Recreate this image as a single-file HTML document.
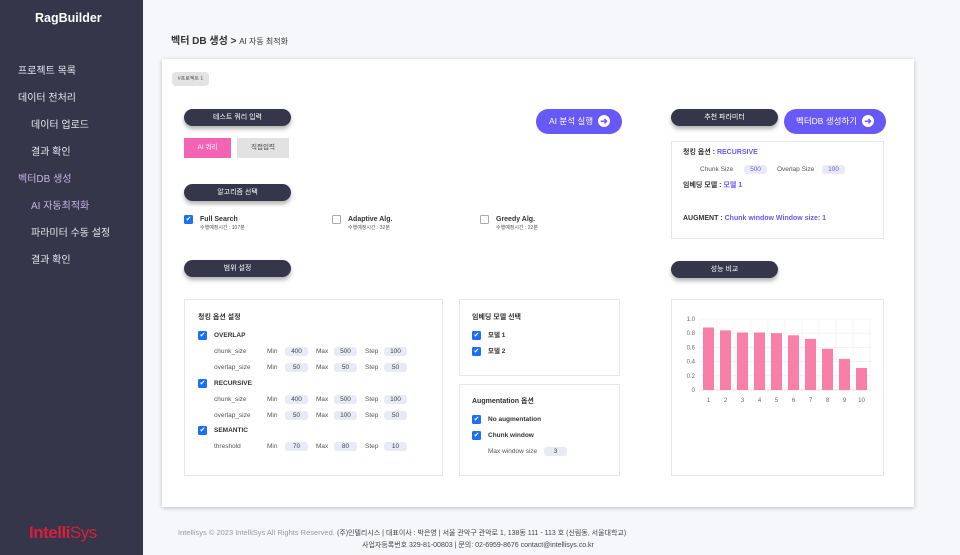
<!DOCTYPE html>
<html><head><meta charset="utf-8"><style>
*{margin:0;padding:0;box-sizing:border-box}
body{width:960px;height:555px;overflow:hidden;background:#f6f7fb;font-family:"Liberation Sans","Noto Sans CJK KR",sans-serif;position:relative;color:#333}
.a{position:absolute;white-space:nowrap}
#sb{position:absolute;left:0;top:0;width:143px;height:555px;background:#35364a}
.nav{position:absolute;color:#e6e6ee;font-size:10px}
.card{position:absolute;left:162px;top:59px;width:752px;height:448px;background:#fff;box-shadow:0 1px 4px rgba(0,0,0,.25)}
.pill{position:absolute;width:107px;height:17px;background:#35364a;border-radius:9px;color:#fff;font-size:7px;text-align:center;line-height:17px;box-shadow:0 3px 4px rgba(0,0,0,.3)}
.btn{position:absolute;background:#6659f5;border-radius:13px;color:#fff;font-size:8.5px;line-height:25px;height:25px}
.btn i{position:absolute;right:12px;top:6px;width:12px;height:12px;border-radius:6px;background:#fff;color:#6659f5;font-style:normal;font-size:9px;line-height:12px;text-align:center;font-weight:bold}
.box{position:absolute;border:1px solid #e6e6e6;background:#fff}
.cb{position:absolute;width:9px;height:9px;background:#1c6ef2;border-radius:1.5px;color:#fff;font-size:7px;line-height:9px;text-align:center}
.cbo{position:absolute;width:9px;height:9px;border:1px solid #aaa;border-radius:1.5px;background:#fff}
.t{position:absolute;font-size:6.5px;color:#555;white-space:nowrap;line-height:9px}
.b{font-weight:bold;color:#333}
.v{position:absolute;width:23px;height:9px;background:#e8ebf5;border-radius:3px;font-size:6.5px;text-align:center;line-height:9px;color:#444}
</style></head><body>
<div id="sb">
<div class="a" style="left:35px;top:11px;color:#fff;font-weight:bold;font-size:12.5px">RagBuilder</div>
<div class="nav" style="left:18px;top:62px">프로젝트 목록</div>
<div class="nav" style="left:18px;top:89px">데이터 전처리</div>
<div class="nav" style="left:31px;top:116px">데이터 업로드</div>
<div class="nav" style="left:31px;top:143px">결과 확인</div>
<div class="nav" style="left:18px;top:170px;color:#c7b3e6">벡터DB 생성</div>
<div class="nav" style="left:31px;top:197px;color:#c7b3e6">AI 자동최적화</div>
<div class="nav" style="left:31px;top:224px">파라미터 수동 설정</div>
<div class="nav" style="left:31px;top:251px">결과 확인</div>
<div class="a" style="left:29px;top:523px;color:#d8203a;font-size:17px;font-weight:bold;letter-spacing:-0.5px">Intelli<span style="font-weight:normal">Sys</span></div>
</div>
<div class="a" style="left:171px;top:32px;font-size:10px;font-weight:bold;color:#333">벡터 DB 생성 &gt; <span style="font-size:8px;font-weight:normal">AI 자동 최적화</span></div>
<div class="card">
<div class="a" style="left:10px;top:13px;width:37px;height:14px;background:#e3e3e3;border-radius:4px;font-size:5px;line-height:14px;text-align:center;color:#555">#프로젝트 1</div>
<div class="pill" style="left:22px;top:50px">테스트 쿼리 입력</div>
<div class="a" style="left:22px;top:79px;width:47px;height:20px;background:#f464b4;color:#fff;font-size:6.5px;text-align:center;line-height:20px">AI 쿼리</div>
<div class="a" style="left:75px;top:79px;width:52px;height:20px;background:#e2e2e2;color:#444;font-size:6.5px;text-align:center;line-height:20px">직접입력</div>
<div class="btn" style="left:374px;top:50px;width:86px;padding-left:13px">AI 분석 실행<i>➜</i></div>
<div class="pill" style="left:22px;top:125px">알고리즘 선택</div>
<div class="cb" style="left:22px;top:156px">✔</div><div class="t b" style="left:38px;top:156px;font-size:7px">Full Search</div><div class="t" style="left:38px;top:165px;font-size:5px">수행예정시간 : 107분</div>
<div class="cbo" style="left:170px;top:156px"></div><div class="t b" style="left:186px;top:156px;font-size:7px">Adaptive Alg.</div><div class="t" style="left:186px;top:165px;font-size:5px">수행예정시간 : 32분</div>
<div class="cbo" style="left:318px;top:156px"></div><div class="t b" style="left:334px;top:156px;font-size:7px">Greedy Alg.</div><div class="t" style="left:334px;top:165px;font-size:5px">수행예정시간 : 22분</div>
<div class="pill" style="left:22px;top:201px">범위 설정</div>
<div class="box" style="left:22px;top:240px;width:259px;height:177px"></div>
<div class="t b" style="left:36px;top:254px;font-size:7px">청킹 옵션 설정</div>
<div class="cb" style="left:36px;top:272px">✔</div><div class="t b" style="left:52px;top:272px">OVERLAP</div>
<div class="t" style="left:52px;top:288px">chunk_size</div><div class="t" style="left:105px;top:288px">Min</div><div class="v" style="left:123px;top:288px">400</div><div class="t" style="left:154px;top:288px">Max</div><div class="v" style="left:172px;top:288px">500</div><div class="t" style="left:203px;top:288px">Step</div><div class="v" style="left:222px;top:288px">100</div>
<div class="t" style="left:52px;top:304px">overlap_size</div><div class="t" style="left:105px;top:304px">Min</div><div class="v" style="left:123px;top:304px">50</div><div class="t" style="left:154px;top:304px">Max</div><div class="v" style="left:172px;top:304px">50</div><div class="t" style="left:203px;top:304px">Step</div><div class="v" style="left:222px;top:304px">50</div>
<div class="cb" style="left:36px;top:320px">✔</div><div class="t b" style="left:52px;top:320px">RECURSIVE</div>
<div class="t" style="left:52px;top:336px">chunk_size</div><div class="t" style="left:105px;top:336px">Min</div><div class="v" style="left:123px;top:336px">400</div><div class="t" style="left:154px;top:336px">Max</div><div class="v" style="left:172px;top:336px">500</div><div class="t" style="left:203px;top:336px">Step</div><div class="v" style="left:222px;top:336px">100</div>
<div class="t" style="left:52px;top:352px">overlap_size</div><div class="t" style="left:105px;top:352px">Min</div><div class="v" style="left:123px;top:352px">50</div><div class="t" style="left:154px;top:352px">Max</div><div class="v" style="left:172px;top:352px">100</div><div class="t" style="left:203px;top:352px">Step</div><div class="v" style="left:222px;top:352px">50</div>
<div class="cb" style="left:36px;top:367px">✔</div><div class="t b" style="left:52px;top:367px">SEMANTIC</div>
<div class="t" style="left:52px;top:383px">threshold</div><div class="t" style="left:105px;top:383px">Min</div><div class="v" style="left:123px;top:383px">70</div><div class="t" style="left:154px;top:383px">Max</div><div class="v" style="left:172px;top:383px">80</div><div class="t" style="left:203px;top:383px">Step</div><div class="v" style="left:222px;top:383px">10</div>
<div class="box" style="left:297px;top:240px;width:161px;height:77px"></div>
<div class="t b" style="left:310px;top:254px;font-size:7px">임베딩 모델 선택</div>
<div class="cb" style="left:310px;top:272px">✔</div><div class="t b" style="left:326px;top:272px">모델 1</div>
<div class="cb" style="left:310px;top:288px">✔</div><div class="t b" style="left:326px;top:288px">모델 2</div>
<div class="box" style="left:297px;top:325px;width:161px;height:92px"></div>
<div class="t b" style="left:310px;top:338px;font-size:7px">Augmentation 옵션</div>
<div class="cb" style="left:310px;top:356px">✔</div><div class="t b" style="left:326px;top:356px">No augmentation</div>
<div class="cb" style="left:310px;top:372px">✔</div><div class="t b" style="left:326px;top:372px">Chunk window</div>
<div class="t" style="left:326px;top:388px">Max window size</div><div class="v" style="left:382px;top:388px">3</div>
<div class="pill" style="left:509px;top:50px">추천 파라미터</div>
<div class="btn" style="left:622px;top:50px;width:102px;padding-left:12px">벡터DB 생성하기<i>➜</i></div>
<div class="box" style="left:509px;top:82px;width:213px;height:98px"></div>
<div class="t b" style="left:521px;top:89px;font-size:7px">청킹 옵션 : <span style="color:#6659f5">RECURSIVE</span></div>
<div class="t" style="left:538px;top:106px">Chunk Size</div><div class="v" style="left:582px;top:106px;color:#6659f5">500</div>
<div class="t" style="left:615px;top:106px">Overlap Size</div><div class="v" style="left:660px;top:106px;color:#6659f5">100</div>
<div class="t b" style="left:521px;top:122px;font-size:7px">임베딩 모델 : <span style="color:#6659f5">모델 1</span></div>
<div class="t b" style="left:521px;top:155px;font-size:7px">AUGMENT : <span style="color:#6659f5">Chunk window Window size: 1</span></div>
<div class="pill" style="left:509px;top:202px">성능 비교</div>
<div class="box" style="left:509px;top:240px;width:213px;height:177px"></div>
</div>
<svg class="a" style="left:0;top:0" width="960" height="555">
<g font-family="Liberation Sans" font-size="6" fill="#666">
<g stroke="#ececec" stroke-width="0.6">
<line x1="700" y1="319" x2="871" y2="319"/><line x1="700" y1="333.2" x2="871" y2="333.2"/><line x1="700" y1="347.4" x2="871" y2="347.4"/><line x1="700" y1="361.6" x2="871" y2="361.6"/><line x1="700" y1="375.8" x2="871" y2="375.8"/>
<line x1="700" y1="319" x2="700" y2="393"/><line x1="717" y1="319" x2="717" y2="393"/><line x1="734" y1="319" x2="734" y2="393"/><line x1="751" y1="319" x2="751" y2="393"/><line x1="768" y1="319" x2="768" y2="393"/><line x1="785" y1="319" x2="785" y2="393"/><line x1="802" y1="319" x2="802" y2="393"/><line x1="819" y1="319" x2="819" y2="393"/><line x1="836" y1="319" x2="836" y2="393"/><line x1="853" y1="319" x2="853" y2="393"/><line x1="870" y1="319" x2="870" y2="393"/>
</g>
<line x1="700" y1="390" x2="871" y2="390" stroke="#ccc" stroke-width="0.6"/>
<text x="695" y="321" text-anchor="end">1.0</text><text x="695" y="335" text-anchor="end">0.8</text><text x="695" y="349.5" text-anchor="end">0.6</text><text x="695" y="363.5" text-anchor="end">0.4</text><text x="695" y="378" text-anchor="end">0.2</text><text x="695" y="392" text-anchor="end">0</text>
<g fill="#f77fa8">
<rect x="703" y="327.5" width="11" height="62.5"/><rect x="720" y="330.4" width="11" height="59.6"/><rect x="737" y="332.5" width="11" height="57.5"/><rect x="754" y="332.5" width="11" height="57.5"/><rect x="771" y="333.2" width="11" height="56.8"/><rect x="788" y="335.3" width="11" height="54.7"/><rect x="805" y="338.9" width="11" height="51.1"/><rect x="822" y="348.8" width="11" height="41.2"/><rect x="839" y="358.8" width="11" height="31.2"/><rect x="856" y="368" width="11" height="22"/>
</g>
<g text-anchor="middle"><text x="708.5" y="402">1</text><text x="725.5" y="402">2</text><text x="742.5" y="402">3</text><text x="759.5" y="402">4</text><text x="776.5" y="402">5</text><text x="793.5" y="402">6</text><text x="810.5" y="402">7</text><text x="827.5" y="402">8</text><text x="844.5" y="402">9</text><text x="861.5" y="402">10</text></g>
</g>
</svg>
<div class="a" style="left:178px;top:528px;font-size:7.5px;color:#999">Intellisys © 2023 IntelliSys All Rights Reserved. <span style="color:#444;font-size:7px">(주)인텔리시스 | 대표이사 : 박은영 | 서울 관악구 관악로 1, 138동 111 - 113 호 (신림동, 서울대학교)</span></div>
<div class="a" style="left:362px;top:540px;font-size:7px;color:#444">사업자등록번호 329-81-00803 | 문의: 02-6959-8676 contact@intellisys.co.kr</div>
</body></html>
